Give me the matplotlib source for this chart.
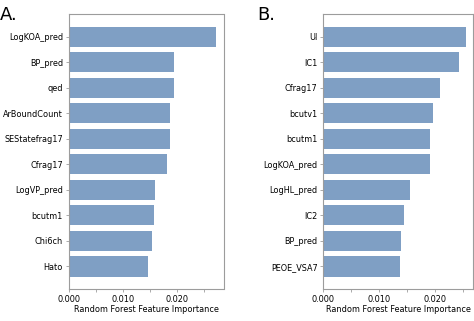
import matplotlib
matplotlib.use("Agg")
from matplotlib import pyplot as plt
from matplotlib.ticker import MultipleLocator, FuncFormatter

# feature names and importances, top to bottom
features_a = ["LogKOA_pred", "BP_pred", "qed", "ArBoundCount", "SEStatefrag17",
              "Cfrag17", "LogVP_pred", "bcutm1", "Chi6ch", "Hato"]
importance_a = [0.02725, 0.0195, 0.0195, 0.0188, 0.01865,
                0.0182, 0.0159, 0.01575, 0.01545, 0.01475]

features_b = ["UI", "IC1", "Cfrag17", "bcutv1", "bcutm1",
              "LogKOA_pred", "LogHL_pred", "IC2", "BP_pred", "PEOE_VSA7"]
importance_b = [0.02555, 0.0243, 0.02095, 0.01975, 0.0191,
                0.0191, 0.0156, 0.0145, 0.01395, 0.0138]

panel_letters = ["A.", "B."]
xlabel = "Random Forest Feature Importance"

bar_color = "#7f9fc4"
spine_color = "#9c9c9c"
fs = 5.85

fig = plt.figure(figsize=(4.74, 3.21), dpi=100)

# axes rectangles in figure fractions
rects = [[68.5 / 474, 32 / 321, 155 / 474, 275 / 321],
         [323 / 474, 32 / 321, 150 / 474, 275 / 321]]


def label_every_other(x, pos):
    # only show labels at multiples of 0.01
    if abs(round(x / 0.01) * 0.01 - x) < 1e-9:
        return "%.3f" % x
    return ""


for rect, feats, vals in zip(rects, [features_a, features_b], [importance_a, importance_b]):
    ax = fig.add_axes(rect)
    ypos = list(range(len(feats)))
    ax.barh(ypos, vals, height=0.8, color=bar_color)
    ax.set_yticks(ypos)
    ax.set_yticklabels(feats, fontsize=fs)
    ax.invert_yaxis()
    ax.xaxis.set_major_locator(MultipleLocator(0.005))
    ax.xaxis.set_major_formatter(FuncFormatter(label_every_other))
    ax.tick_params(labelsize=fs, length=2.5, width=0.6, color=spine_color, pad=1.5)
    ax.set_xlabel(xlabel, fontsize=fs, labelpad=1)
    for s in ax.spines.values():
        s.set_color(spine_color)
        s.set_linewidth(0.8)
    ax.set_xlim(left=0)

fig.text(0 / 474, 1 - 20 / 321, panel_letters[0], fontsize=13)
fig.text(257 / 474, 1 - 20 / 321, panel_letters[1], fontsize=13)

plt.savefig("out.png", dpi=100)
